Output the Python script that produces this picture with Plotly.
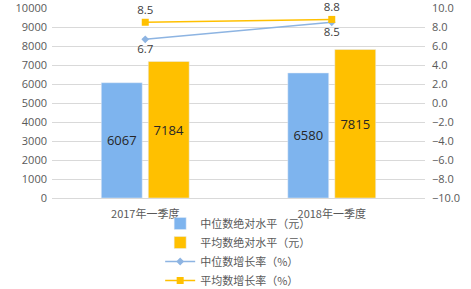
import plotly.graph_objects as go

categories = ["2017年一季度", "2018年一季度"]
median_level = [6067, 6580]
mean_level = [7184, 7815]
median_growth = [6.7, 8.5]
mean_growth = [8.5, 8.8]

font_family = "Noto Sans CJK SC, DejaVu Sans, sans-serif"
num_family = "Open Sans, Noto Sans, sans-serif"
tick_color = "#595959"

fig = go.Figure()
fig.add_trace(go.Bar(
    x=categories, y=median_level, name="中位数绝对水平（元）",
    marker_color="#7EB4EE", text=[str(v) for v in median_level],
    textposition="inside", insidetextanchor="middle",
    textfont=dict(size=13, color="#262626", family=num_family),
))
fig.add_trace(go.Bar(
    x=categories, y=mean_level, name="平均数绝对水平（元）",
    marker_color="#FFC000", text=[str(v) for v in mean_level],
    textposition="inside", insidetextanchor="middle",
    textfont=dict(size=13, color="#262626", family=num_family),
))
fig.add_trace(go.Scatter(
    x=categories, y=median_growth, name="中位数增长率（%）", yaxis="y2",
    mode="lines+markers+text", line=dict(color="#8DB4E2", width=1.5),
    marker=dict(symbol="diamond", size=6, color="#8DB4E2"),
    text=[f"{v:.1f}" for v in median_growth], textposition="bottom center",
    textfont=dict(size=11.5, color="#404040", family=num_family),
    cliponaxis=False,
))
fig.add_trace(go.Scatter(
    x=categories, y=mean_growth, name="平均数增长率（%）", yaxis="y2",
    mode="lines+markers+text", line=dict(color="#FFC000", width=1.5),
    marker=dict(symbol="square", size=7, color="#FFC000"),
    text=[f"{v:.1f}" for v in mean_growth], textposition="top center",
    textfont=dict(size=11.5, color="#404040", family=num_family),
    cliponaxis=False,
))

fig.update_layout(
    width=471, height=289,
    margin=dict(l=52, r=46, t=8, b=91),
    paper_bgcolor="white", plot_bgcolor="white",
    barmode="group", bargap=0.496, bargroupgap=0.13,
    font=dict(family=font_family, size=11, color=tick_color),
    showlegend=True,
    legend=dict(
        xref="paper", yref="container",
        x=0.29, y=1 - 209 / 289, xanchor="left", yanchor="top",
        orientation="v", font=dict(size=11, color=tick_color),
        tracegroupgap=0, itemwidth=30, bgcolor="rgba(0,0,0,0)",
    ),
    xaxis=dict(showgrid=False, showline=True, linecolor="#D9D9D9",
               tickfont=dict(size=11, color=tick_color), ticks="",
               ticklabelstandoff=6, automargin=False),
    yaxis=dict(range=[0, 10000.5], tick0=0, dtick=1000, tickformat="d",
               showgrid=True, gridcolor="#D9D9D9", automargin=False,
               ticklabeloverflow="allow",
               zeroline=False, tickfont=dict(size=11, color=tick_color, family=num_family),
               ticks="", ticklabelstandoff=4),
    yaxis2=dict(range=[-10, 10.001], tick0=-10, dtick=2, overlaying="y", side="right",
                showgrid=False, zeroline=False, tickformat=".1f", automargin=False,
                ticklabeloverflow="allow", ticklabelstandoff=6,
                tickfont=dict(size=11, color=tick_color, family=num_family), ticks=""),
)

fig.write_html("out.html")
